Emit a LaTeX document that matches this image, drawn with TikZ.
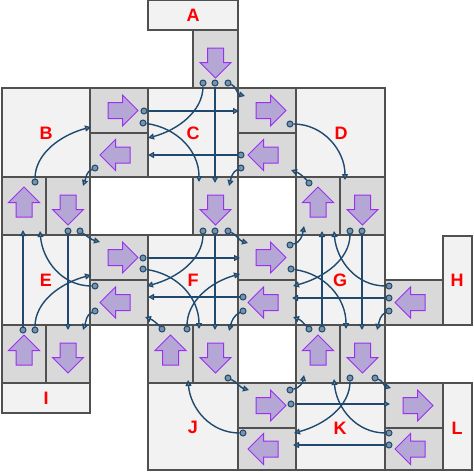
\documentclass[tikz,border=0pt]{standalone}
\usepackage{fontspec}
\setmainfont{Liberation Sans}
\usetikzlibrary{arrows.meta,shapes.arrows}

\definecolor{panelgray}{RGB}{242,242,242}
\definecolor{cellgray}{RGB}{217,217,217}
\definecolor{edgegray}{RGB}{80,80,80}
\definecolor{linkblue}{RGB}{31,73,110}
\definecolor{arrowfill}{RGB}{180,167,214}
\definecolor{arrowedge}{RGB}{155,48,240}

\tikzset{
  panel/.style={draw=edgegray, fill=panelgray, line width=1.2pt},
  cell/.style={draw=edgegray, fill=cellgray, line width=1.2pt},
  lbl/.style={text=red, font=\fontsize{18}{18}\selectfont\bfseries},
  blockarrow/.style={single arrow, draw=arrowedge, fill=arrowfill, line width=1pt,
    minimum height=30pt, inner sep=7.5pt, text height=0pt, text depth=0pt, text width=0pt,
    single arrow head extend=7.5pt, single arrow tip angle=90},
  dot/.style={circle, draw=linkblue, fill=linkblue!60, line width=1pt, minimum size=6pt, inner sep=0pt},
  link/.style={draw=linkblue, line width=1.4pt, -{Triangle[length=6pt,width=6pt,fill=linkblue!35]}},
}

\begin{document}
\begin{tikzpicture}[x=1pt,y=1pt,yscale=-1]
  \useasboundingbox (0,0) rectangle (474,472);

  % junctions and ends
  \draw[panel] (148,0)   rectangle (238,30);  % A
  \draw[panel] (2,88)    rectangle (90,177);  % B
  \draw[panel] (148,88)  rectangle (238,177); % C
  \draw[panel] (296,88)  rectangle (385,177); % D
  \draw[panel] (2,235)   rectangle (90,325);  % E
  \draw[panel] (148,235) rectangle (238,325); % F
  \draw[panel] (296,235) rectangle (385,325); % G
  \draw[panel] (443,236) rectangle (472,325); % H
  \draw[panel] (2,383)   rectangle (90,413);  % I
  \draw[panel] (148,383) rectangle (238,470); % J
  \draw[panel] (296,383) rectangle (385,470); % K
  \draw[panel] (443,383) rectangle (472,470); % L

  % lanes: x1/y1/x2/y2/direction
  \foreach \xa/\ya/\xb/\yb/\dir [count=\i] in {
      193/30/238/88/270,
      90/88/148/133/0,    90/133/148/177/180,
      238/88/296/133/0,   238/133/296/177/180,
      2/177/46/235/90,    46/177/90/235/270,
      193/177/238/235/270,
      296/177/340/235/90, 340/177/385/235/270,
      90/235/148/280/0,   90/280/148/325/180,
      238/235/296/280/0,  238/280/296/325/180,
      385/280/443/325/180,
      2/325/46/383/90,    46/325/90/383/270,
      148/325/193/383/90, 193/325/238/383/270,
      296/325/340/383/90, 340/325/385/383/270,
      238/383/296/428/0,  238/428/296/470/180,
      385/383/443/428/0,  385/428/443/470/180} {
    \draw[cell] (\xa,\ya) rectangle (\xb,\yb);
    \node[blockarrow, shape border rotate=\dir] (lane\i) at ({(\xa+\xb)/2},{(\ya+\yb)/2}) {};
  }

  \node[lbl] (A) at (193,15)  {A};
  \node[lbl] (B) at (46,133)  {B};
  \node[lbl] (C) at (193,133) {C};
  \node[lbl] (D) at (341,133) {D};
  \node[lbl] (E) at (46,280)  {E};
  \node[lbl] (F) at (193,280) {F};
  \node[lbl] (G) at (340,280) {G};
  \node[lbl] (H) at (457,280) {H};
  \node[lbl] (I) at (46,398)  {I};
  \node[lbl] (J) at (193,427) {J};
  \node[lbl] (K) at (340,428) {K};
  \node[lbl] (L) at (457,428) {L};

  % where the links start
  \foreach \n/\x/\y in {
      c1/203/83, c2/215/83, c3/228/83, c4/144/111, c5/143/123, c6/241/155, c7/241/168,
      b1/35/182, b2/95/168, d1/290/124, d2/309/183,
      e1/68/231, e2/80/231, e3/23/330, e4/35/330, e5/95/286, e6/95/311,
      f1/203/231, f2/215/231, f3/228/231, f4/143/258, f5/143/269,
      f6/243/297, f7/243/311, f8/162/329, f9/187/329,
      g1/350/231, g2/362/231, g3/290/245, g4/291/269, g5/389/286,
      g6/389/298, g7/389/311, g8/309/329, g9/322/329,
      j1/228/378, j2/243/433,
      k1/350/378, k2/375/378, k3/290/390, k4/291/404, k5/389/433, k6/389/445}
    \node[dot] (\n) at (\x,\y) {};

  % where they end
  \foreach \n/\x/\y in {
      c1t/148/138, c2t/215/183, c3t/245/96, c4t/239/111, c5t/199/182, c6t/148/155, c7t/229/186,
      b1t/91/127, b2t/83/186, d1t/345/180, d2t/291/170,
      e1t/68/330, e2t/100/242, e3t/23/230, e4t/91/275, e5t/40/231, e6t/83/330,
      f1t/147/286, f2t/215/330, f3t/248/243, f4t/240/258, f5t/199/329,
      f6t/148/297, f7t/229/331, f8t/145/317, f9t/240/274,
      g1t/293/286, g2t/362/330, g3t/304/226, g4t/346/329, g5t/334/231,
      g6t/292/298, g7t/377/330, g8t/293/317, g9t/322/231,
      j1t/249/390, j2t/188/380,
      k1t/294/433, k2t/391/388, k3t/304/375, k4t/390/404, k5t/334/379, k6t/293/445}
    \coordinate (\n) at (\x,\y);

  % C
  \draw[link] (c1) to[out=90,in=345] (c1t);
  \draw[link] (c2) -- (c2t);
  \draw[link] (c3) to[out=45,in=195] (c3t);
  \draw[link] (c4) -- (c4t);
  \draw[link] (c5) to[out=10,in=270] (c5t);
  \draw[link] (c6) -- (c6t);
  \draw[link] (c7) to[out=135,in=285] (c7t);
  % B and D
  \draw[link] (b1) to[out=270,in=165] (b1t);
  \draw[link] (b2) to[out=135,in=290] (b2t);
  \draw[link] (d1) to[out=0,in=270] (d1t);
  \draw[link] (d2) to[out=250,in=20] (d2t);
  % E
  \draw[link] (e1) -- (e1t);
  \draw[link] (e2) to[out=60,in=195] (e2t);
  \draw[link] (e3) -- (e3t);
  \draw[link] (e4) to[out=270,in=165] (e4t);
  \draw[link] (e5) to[out=180,in=85] (e5t);
  \draw[link] (e6) to[out=135,in=290] (e6t);
  % F
  \draw[link] (f1) to[out=90,in=345] (f1t);
  \draw[link] (f2) -- (f2t);
  \draw[link] (f3) to[out=45,in=195] (f3t);
  \draw[link] (f4) -- (f4t);
  \draw[link] (f5) to[out=10,in=270] (f5t);
  \draw[link] (f6) -- (f6t);
  \draw[link] (f7) to[out=135,in=285] (f7t);
  \draw[link] (f8) to[out=250,in=20] (f8t);
  \draw[link] (f9) to[out=270,in=165] (f9t);
  % G
  \draw[link] (g1) to[out=90,in=345] (g1t);
  \draw[link] (g2) -- (g2t);
  \draw[link] (g3) to[out=330,in=100] (g3t);
  \draw[link] (g4) to[out=10,in=270] (g4t);
  \draw[link] (g5) to[out=180,in=85] (g5t);
  \draw[link] (g6) -- (g6t);
  \draw[link] (g7) to[out=135,in=285] (g7t);
  \draw[link] (g8) to[out=250,in=20] (g8t);
  \draw[link] (g9) -- (g9t);
  % J and K
  \draw[link] (j1) to[out=45,in=195] (j1t);
  \draw[link] (j2) to[out=180,in=85] (j2t);
  \draw[link] (k1) to[out=90,in=345] (k1t);
  \draw[link] (k2) to[out=45,in=195] (k2t);
  \draw[link] (k3) to[out=330,in=100] (k3t);
  \draw[link] (k4) -- (k4t);
  \draw[link] (k5) to[out=180,in=85] (k5t);
  \draw[link] (k6) -- (k6t);
\end{tikzpicture}
\end{document}
